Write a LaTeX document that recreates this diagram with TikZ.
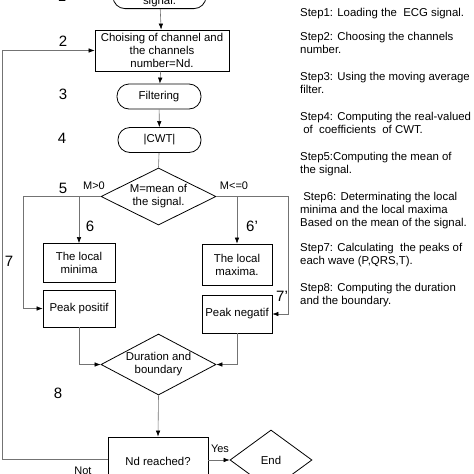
\documentclass[tikz,border=0pt]{standalone}
\usepackage{fontspec}
\setmainfont{Liberation Sans}
\usetikzlibrary{arrows.meta,shapes.geometric,positioning,calc}

\begin{document}
\begin{tikzpicture}[
  x=1pt, y=-1pt,
  font=\fontsize{11.4}{13}\selectfont,
  % Node Styles
  box/.style={draw, thick, rectangle, align=center, inner sep=1pt},
  term/.style={draw, thick, rectangle, rounded corners=12pt, align=center, inner sep=1pt},
  decide/.style={draw, thick, diamond, aspect=2, align=center, inner sep=0pt},
  % Line Styles
  sig_line/.style={-{Latex[length=6pt,width=4.5pt,color=black]}, semithick, black!55},
  plain_line/.style={semithick, black!55},
  % Label Styles
  num/.style={font=\fontsize{15}{17}\selectfont},
  lbl/.style={font=\fontsize{11}{13}\selectfont, inner sep=0pt},
  steptxt/.style={align=left, anchor=north west, inner sep=0pt}
]
\clip (0,0) rectangle (474,474);
\fill[white] (0,0) rectangle (474,474);

% ================= NODES =================

% --- Main flow (Center) ---
\node[term, anchor=south, minimum width=93pt, minimum height=34pt, inner ysep=1pt,
      text height=28pt, text depth=2.5pt] (start) at (159.5, 9) {signal.};
\node[box, minimum width=134pt, minimum height=41pt] (choose) at (162, 50.5)
  {Choising of channel and\\the channels\\ number=Nd.};
\node[term, minimum width=84pt, minimum height=25pt] (filter) at (159, 96.5) {Filtering};
\node[term, minimum width=83pt, minimum height=25pt] (cwt) at (159.5, 140) {|CWT|};
\node[decide, minimum width=115pt, minimum height=57pt] (mean) at (158.5, 196.5)
  {M=mean of\\the signal.};

% --- Branches ---
\node[box, minimum width=72pt, minimum height=39pt] (minima) at (79, 263) {The local\\minima};
\node[box, minimum width=72pt, minimum height=37pt] (posit) at (79, 308.5) {Peak positif};
\node[box, minimum width=70pt, minimum height=41pt] (maxima) at (237, 264.5) {The local\\maxima.};
\node[box, minimum width=70pt, minimum height=38pt] (negat) at (237, 314) {Peak negatif};

% --- Bottom ---
\node[decide, minimum width=115pt, minimum height=61pt] (duration) at (158.5, 364.5)
  {Duration and\\boundary};
\node[box, minimum width=100pt, minimum height=48pt] (reached) at (158, 461) {Nd reached?};
\node[decide, minimum width=82pt, minimum height=60pt] (end) at (271, 460) {End};

% --- Step numbers ---
\node[num] (n1) at (62, -4) {1};
\node[num] (n2) at (63, 41) {2};
\node[num] (n3) at (63, 94) {3};
\node[num] (n4) at (62, 138) {4};
\node[num] (n5) at (63, 188) {5};
\node[num] (n6) at (90, 226) {6};
\node[num] (n6b) at (252, 226) {6'};
\node[num] (n7) at (9, 261) {7};
\node[num] (n7b) at (282, 296) {7'};
\node[num] (n8) at (58, 393) {8};

% --- Step descriptions (Right Column) ---
\node[steptxt] (s1) at (300, 8.5) {Step1: Loading the \ ECG signal.};
\node[steptxt] (s2) at (300, 32.5) {Step2: Choosing the channels\\number.};
\node[steptxt] (s3) at (300, 72.5) {Step3: Using the moving average\\filter.};
\node[steptxt] (s4) at (300, 112.5) {Step4: Computing the real-valued\\\ of \ coefficients \ of CWT.};
\node[steptxt] (s5) at (300, 152.5) {Step5:Computing the mean of\\the signal.};
\node[steptxt] (s6) at (300, 192.5) {\ Step6: Determinating the local\\minima and the local maxima\\Based on the mean of the signal.};
\node[steptxt] (s7) at (300, 243.5) {Step7: Calculating \ the peaks of\\each wave (P,QRS,T).};
\node[steptxt] (s8) at (300, 283.5) {Step8: Computing the duration\\and the boundary.};

% ================= CONNECTIONS =================

% 1. Main chain
\draw[sig_line] (start) -- (choose);
\draw[sig_line] (choose) -- (filter);
\draw[sig_line] (filter) -- (cwt);
\draw[plain_line] (cwt) -- (mean.north);

% 2. M>0 branch (left)
\draw[sig_line] (mean.west) -- ++(-77,0) |- (posit.west);
\draw[sig_line] (minima.north |- mean.west) -- (minima.north);
\node[lbl] (mpos) at (94, 186) {M>0};

% 3. M<=0 branch (right)
\draw[sig_line] (mean.east) -- ++(72,0) |- (negat.east);
\draw[sig_line] (maxima.north |- mean.east) -- (maxima.north);
\node[lbl] (mneg) at (234, 186) {M<=0};

% 4. Peaks to duration
\draw[sig_line] (posit.south) |- (duration.west);
\draw[sig_line] (negat.south) |- (duration.east);
\draw[sig_line] (duration.south) -- (reached.north);

% 5. Loop test
\draw[sig_line] (reached.east |- end.west) -- (end.west);
\node[lbl] (yes) at (220, 449) {Yes};
\draw[sig_line] (reached.west |- 0,459) -- ++(-105,0) |- (choose.west);
\node[lbl] (not) at (83, 471) {Not};

\end{tikzpicture}
\end{document}
